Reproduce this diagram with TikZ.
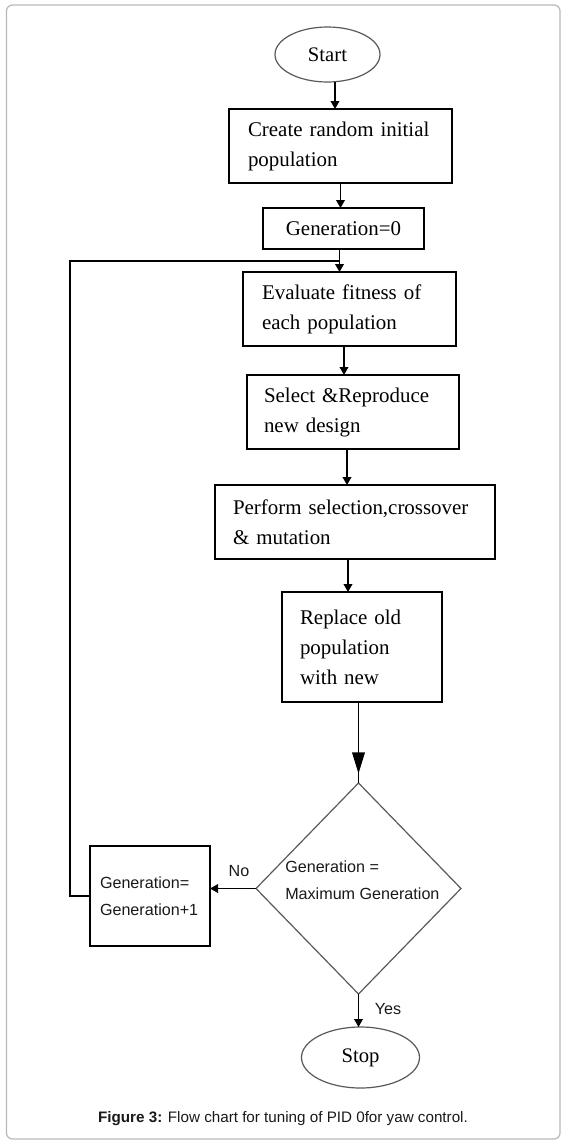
\documentclass[tikz,border=0pt]{standalone}
\usepackage{fontspec}
\setmainfont{Liberation Serif}
\newfontfamily\arialf{Liberation Sans}
\usetikzlibrary{shapes.geometric,arrows.meta}
\newlength\pxu
\setlength\pxu{0.75pt}
\definecolor{framegray}{gray}{0.72}
\definecolor{dgray}{gray}{0.35}
\definecolor{sanstext}{gray}{0.1}
\tikzset{
  serifbox/.style={draw=black, line width=1.6\pxu, rectangle, outer sep=0pt,
    align=left, font=\fontsize{15.7pt}{22.5pt}\selectfont},
  termnode/.style={draw=dgray, line width=1.2\pxu, ellipse, outer sep=0pt, inner sep=0pt,
    font=\fontsize{15.5pt}{22.5pt}\selectfont},
  sanstxt/.style={font=\arialf\fontsize{12.1pt}{20.25pt}\selectfont, text=sanstext, inner sep=0pt},
  conn/.style={draw=black, line width=1.5\pxu},
  arr/.style={conn, -{Triangle[length=6pt,width=6.5pt]}},
  bigarr/.style={conn, -{Triangle[length=16pt,width=9.5pt]}},
}
\begin{document}
\begin{tikzpicture}[x=0.75pt, y=-0.75pt]
\useasboundingbox (0,0) rectangle (568,1146);
% outer frame
\draw[framegray, line width=1.2\pxu, rounded corners=6\pxu] (6.5,5) rectangle (560,1139);

% nodes
\node[termnode, minimum width=105\pxu, minimum height=55\pxu] (start) at (327.5,54.5) {Start};
\node[serifbox, text width=185\pxu, inner xsep=19\pxu, minimum height=74\pxu] (create) at (340.5,146) {Create random initial\\population};
\node[serifbox, align=center, text width=151\pxu, inner xsep=5\pxu, minimum height=41\pxu] (gen0) at (343.5,228.5) {Generation=0};
\node[serifbox, text width=175\pxu, inner xsep=19\pxu, minimum height=74\pxu] (eval) at (349.5,309) {Evaluate fitness of\\each population};
\node[serifbox, text width=178\pxu, inner xsep=17\pxu, minimum height=74\pxu] (select) at (353,412) {Select \&Reproduce\\new design};
\node[serifbox, text width=244\pxu, inner xsep=18\pxu, minimum height=74\pxu] (perform) at (355,522) {Perform selection,crossover\\\& mutation};
\node[serifbox, text width=124\pxu, inner xsep=18\pxu, minimum height=110\pxu] (replace) at (362,647) {Replace old\\population\\with new};
\node[draw=dgray, line width=1.2\pxu, diamond, minimum width=205\pxu, minimum height=211\pxu, inner sep=0pt, outer sep=0pt] (decide) at (358.5,888.5) {};
\node[sanstxt, align=left, anchor=west] (dtext) at (285,880) {Generation =\\Maximum Generation};
\node[draw=black, line width=1.6\pxu, rectangle, outer sep=0pt, sanstxt, align=left, text width=100\pxu, inner xsep=10\pxu, minimum height=100\pxu] (gp1) at (150,896) {Generation=\\Generation+1};
\node[termnode, minimum width=118\pxu, minimum height=61\pxu] (stop) at (360.5,1057.5) {Stop};

% labels
\node[sanstxt] (nolab) at (239,871) {No};
\node[sanstxt] (yeslab) at (388,1009) {Yes};
\node[font=\arialf\fontsize{11.4pt}{14pt}\selectfont, text=sanstext, inner sep=0pt] (caption) at (283,1119) {\textbf{Figure 3:} Flow chart for tuning of PID 0for yaw control.};

% connectors
\draw[arr] ([xshift=7.5\pxu]start.south) -- ([xshift=7.5\pxu]start.south |- create.north);
\draw[arr] (create.south) -- (create.south |- gen0.north);
\draw[arr] ([xshift=-4\pxu]gen0.south) -- ([xshift=-4\pxu]gen0.south |- eval.north);
\coordinate (join) at ([xshift=-4\pxu, yshift=-9pt]gen0.south);
\draw[arr] ([xshift=-5.5\pxu]eval.south) -- ([xshift=-5.5\pxu]eval.south |- select.north);
\draw[arr] ([xshift=-6\pxu]select.south) -- ([xshift=-6\pxu]select.south |- perform.north);
\draw[arr] ([xshift=-7\pxu]perform.south) -- ([xshift=-7\pxu]perform.south |- replace.north);
\draw[conn] (decide.north |- replace.south) -- (decide.north);
\draw[bigarr] (decide.north |- replace.south) -- ([yshift=7pt]decide.north);
\draw[arr] (decide.south) -- (decide.south |- stop.north);
\draw[arr] (decide.west) -- (decide.west -| gp1.east);
\draw[conn] (gp1.west) -- ++(-20,0) |- (join);
\end{tikzpicture}
\end{document}
